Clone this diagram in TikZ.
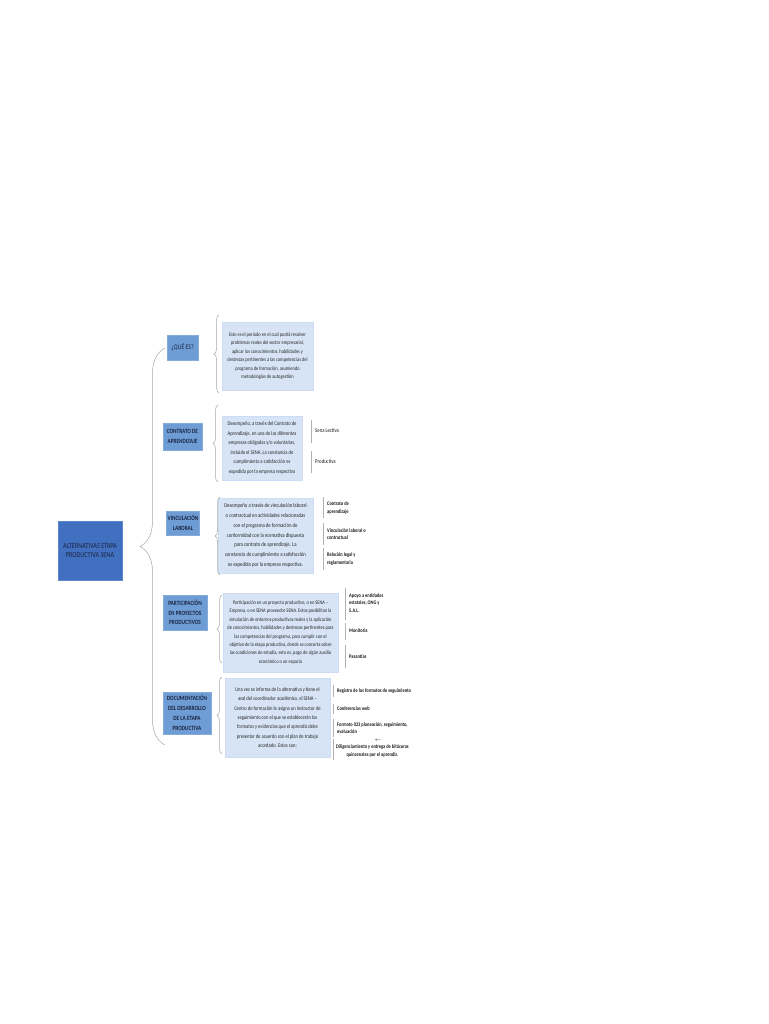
\documentclass[tikz,border=0pt]{standalone}
\usepackage{fontspec}
\setmainfont{Carlito}[FakeStretch=0.82]
\usepackage{xcolor}
\usetikzlibrary{positioning, shapes, decorations.pathreplacing}
\definecolor{azulfuerte}{RGB}{66,112,192}
\definecolor{azulmedio}{RGB}{110,156,212}
\definecolor{azulclaro}{RGB}{214,228,246}
\definecolor{tinta}{RGB}{28,38,66}

\begin{document}
\begin{tikzpicture}[x=1pt, y=-1pt,
    mainbox/.style={draw=azulfuerte!85!white, fill=azulfuerte, text=tinta, align=center, inner sep=1pt, font=\fontsize{7.6}{9.4}\selectfont},
    itembox/.style={draw=azulmedio!85!white, fill=azulmedio, text=tinta, align=center, inner sep=1pt, font=\bfseries\fontsize{6.4}{9.8}\selectfont},
    descbox/.style={draw=azulclaro!96!blue, fill=azulclaro, text=black!85, align=center, inner sep=1pt, font=\fontsize{5.4}{8.4}\selectfont},
    leaf/.style={anchor=west, align=left, inner sep=0pt, text=black!90, font=\bfseries\fontsize{5.4}{7.4}\selectfont},
    brc/.style={draw=gray!70, line width=0.5pt, decorate, decoration={brace, amplitude=#1}}]
        \fill[white] (0,0) rectangle (768,1024);
        \useasboundingbox (0,0) rectangle (768,1024);
        % main and first level
        \node[mainbox, minimum width=64pt, minimum height=59pt] (a) at (90,550.5) {ALTERNATIVAS ETAPA\\PRODUCTIVA SENA};
        \node[itembox, font=\fontsize{7}{8}\selectfont, minimum width=31pt, minimum height=25pt] (b) at (182.5,347.5) {¿QUÉ ES?};
        \node[itembox, minimum width=39pt, minimum height=27pt] (c) at (182.5,436.5) {CONTRATO DE\\APRENDIZAJE};
        \node[itembox, minimum width=32pt, minimum height=24pt] (d) at (183,523) {VINCULACIÓN\\LABORAL};
        \node[itembox, minimum width=44pt, minimum height=35pt] (e) at (185,612.5) {PARTICIPACIÓN\\EN PROYECTOS\\PRODUCTIVOS};
        \node[itembox, minimum width=48pt, minimum height=42pt] (f) at (187,713) {DOCUMENTACIÓN\\DEL DESARROLLO\\DE LA ETAPA\\PRODUCTIVA};
        % descriptions
        \node[descbox, minimum width=91pt, minimum height=68pt] (g) at (267.5,356) {Este es el periodo en el cual podrá resolver\\problemas reales del sector empresarial,\\aplicar los conocimientos, habilidades y\\destrezas pertinentes a las competencias del\\programa de formación, asumiendo\\metodologías de autogestión};
        \node[descbox, font=\fontsize{5.6}{9.6}\selectfont, minimum width=80pt, minimum height=64pt] (h) at (262,448) {Desempeño, a través del Contrato de\\Aprendizaje, en una de las diferentes\\empresas obligadas y/o voluntarias,\\incluida el SENA. La constancia de\\cumplimiento a satisfacción es\\expedida por la empresa respectiva};
        \node[descbox, font=\fontsize{5.8}{9.8}\selectfont, minimum width=95pt, minimum height=75pt] (i) at (265.5,535.5) {Desempeño a través de vinculación laboral\\o contractual en actividades relacionadas\\con el programa de formación de\\conformidad con la normativa dispuesta\\para contrato de aprendizaje. La\\constancia de cumplimiento a satisfacción\\es expedida por la empresa respectiva.};
        \node[descbox, minimum width=115pt, minimum height=79pt] (j) at (280.5,632.5) {Participación en un proyecto productivo, o en SENA --\\Empresa, o en SENA proveedor SENA. Estos posibilitan la\\simulación de entornos productivos reales y la aplicación\\de conocimientos, habilidades y destrezas pertinentes para\\las competencias del programa, para cumplir con el\\objetivo de la etapa productiva, donde se concerta sobre\\las condiciones de estadía, esto es, pago de algún auxilio\\económico o un espacio};
        \node[descbox, font=\fontsize{5.6}{9.3}\selectfont, minimum width=105pt, minimum height=79pt] (k) at (277.5,717.5) {Una vez se informa de la alternativa y tiene el\\aval del coordinador académico, el SENA --\\Centro de formación le asigna un instructor de\\seguimiento con el que se establecerán los\\formatos y evidencias que el aprendiz debe\\presentar de acuerdo con el plan de trabajo\\acordado. Estos son:};
        % leaves
        \node[leaf, font=\fontsize{5.8}{7}\selectfont] (l1) at (315,431) {Sena Lectiva};
        \node[leaf, font=\fontsize{5.8}{7}\selectfont] (l2) at (315,462) {Productiva};
        \node[leaf] (m1) at (327,508) {Contrato de\\aprendizaje};
        \node[leaf] (m2) at (327,534) {Vinculación laboral o\\contractual};
        \node[leaf] (m3) at (327,559) {Relación legal y\\reglamentaria};
        \node[leaf] (n1) at (349,603) {Apoyo a entidades\\estatales, ONG y\\S.A.L.};
        \node[leaf] (n2) at (349,631) {Monitoria};
        \node[leaf] (n3) at (349,657) {Pasantías};
        \node[leaf] (o1) at (337,691) {Registro de los formatos de seguimiento};
        \node[leaf] (o2) at (337,709) {Conferencias web};
        \node[leaf] (o3) at (337,728) {Formato 023 planeación, seguimiento,\\evaluación};
        \node[leaf, align=center] (o4) at (336,751) {Diligenciamiento y entrega de bitácoras\\quincenales por el aprendiz.};
        \node[inner sep=0pt, font=\fontsize{5}{5}\selectfont] (z) at (378,741) {$\leftarrow$};
        % braces and bars
        \draw[brc=25] (165,745) -- (165,348);
        \foreach \x/\ya/\yb in
        {219/393/315, 218/482/405, 220/575/497, 222/663/595, 222/754/677} \draw[brc=5] (\x,\ya) -- (\x,\yb);
        \foreach \x/\ya/\yb in
        {311/420/443, 311/451/473, 323/497/518, 323/523/545, 323/548/570, 345/588/620, 345/623/640, 345/645/668, 333/685/697, 333/704/714, 333/719/737, 333/739/760} \draw[gray!60, line width=0.5pt] (\x,\ya) -- (\x,\yb);
        \end{tikzpicture}
\end{document}
